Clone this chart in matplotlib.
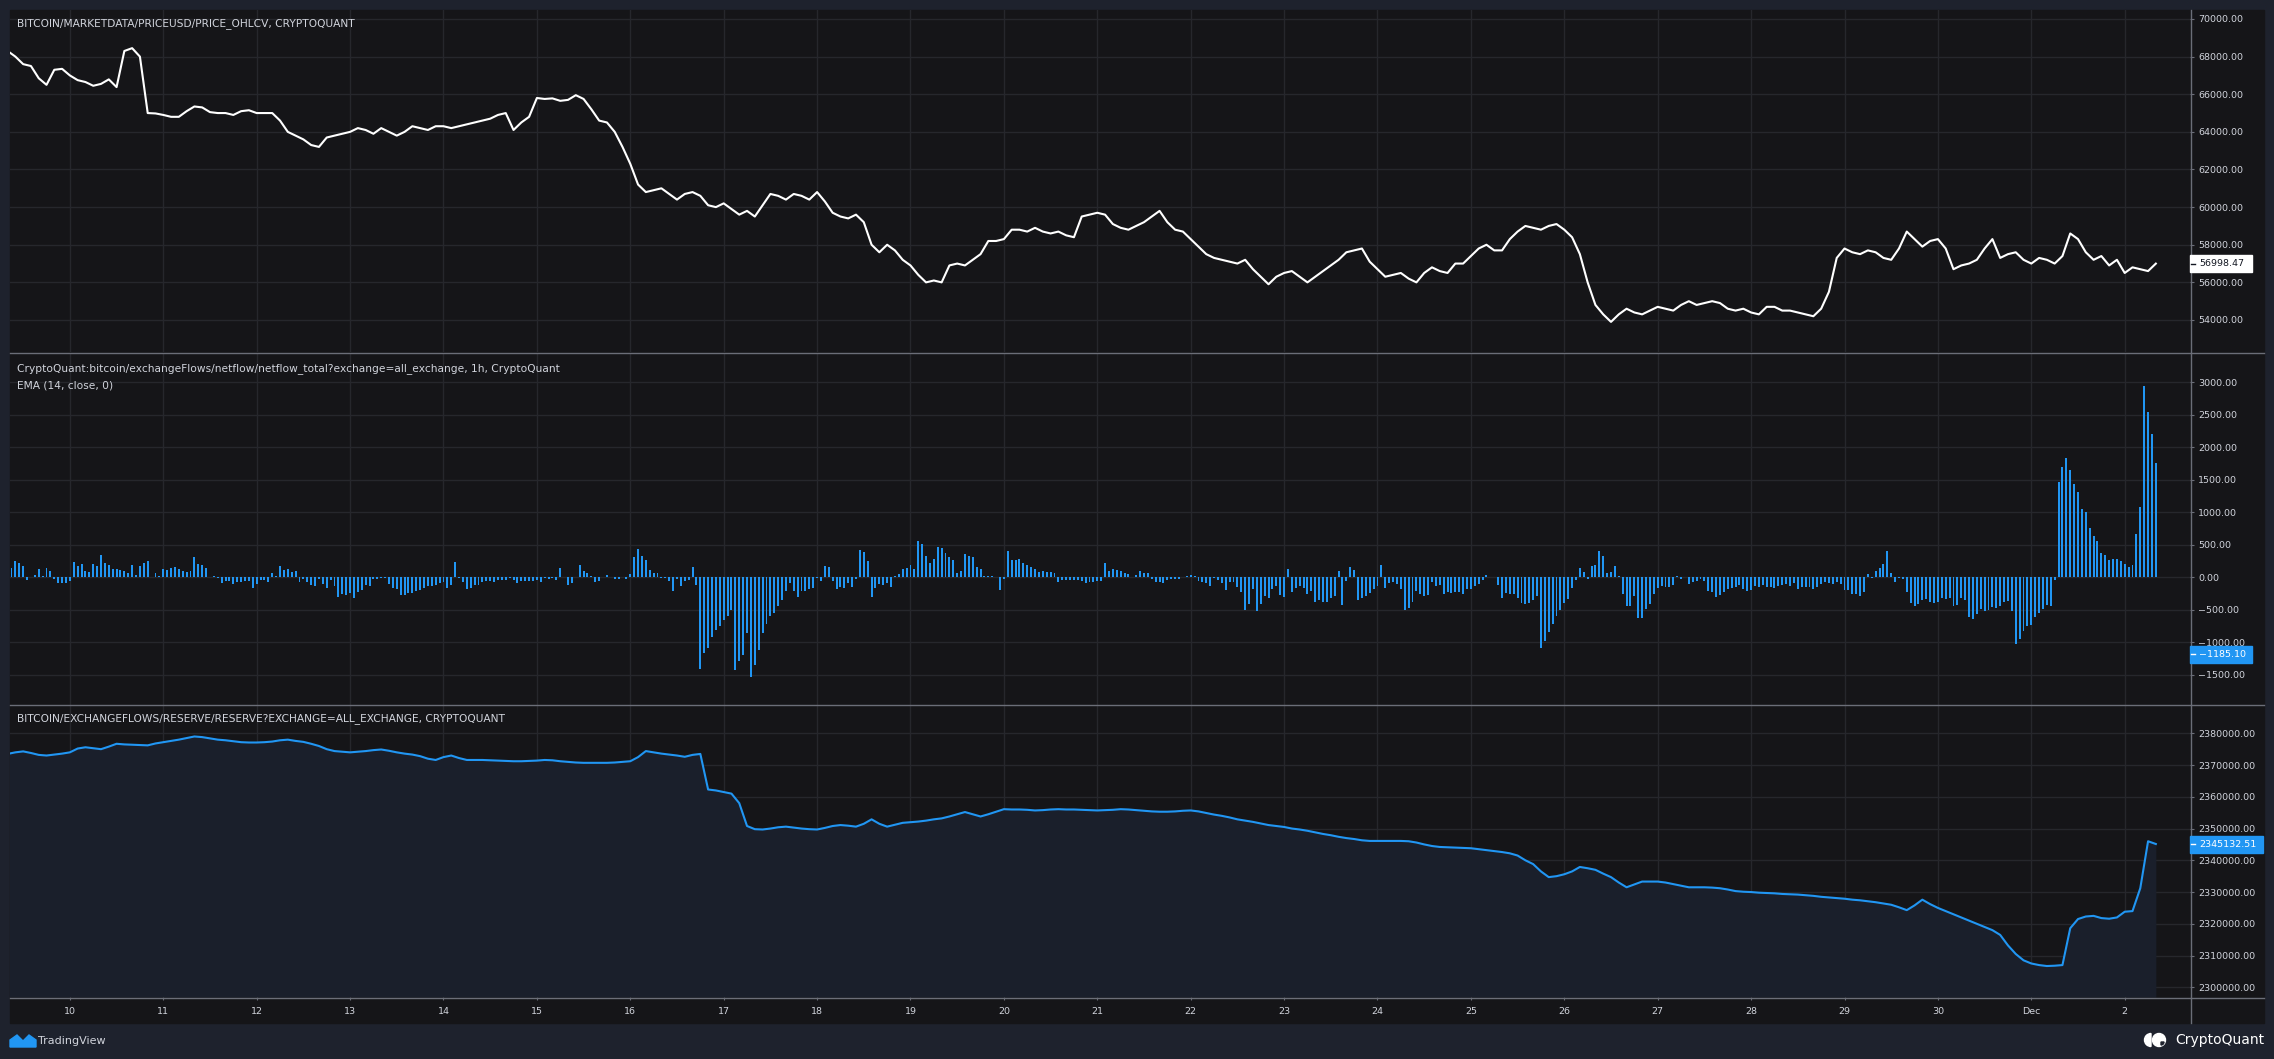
import matplotlib
matplotlib.use('Agg')
import matplotlib.pyplot as plt
import matplotlib.dates as mdates
from matplotlib.patches import Rectangle, Polygon, Wedge, Circle
from matplotlib.lines import Line2D
from matplotlib.ticker import FuncFormatter, FixedLocator
import numpy as np
import pandas as pd

# ---------------- data ----------------
# hourly exchange netflow, first bar 2021-11-09 09:00
netflow_start = '2021-11-09 09:00'
netflow = [
    144, 252, 221, 175, -41, 10, 36, 129, 20, 144,
    98, -26, -88, -88, -88, -51, 237, 175, 206, 98,
    82, 206, 175, 345, 221, 190, 129, 129, 113, 98,
    67, 190, 36, 175, 221, 252, 10, 67, 20, 129,
    113, 144, 160, 129, 98, 82, 98, 314, 206, 190,
    144, 5, 20, -5, -88, -57, -57, -103, -72, -72,
    -57, -57, -165, -103, -41, -41, -72, 67, 20, 175,
    113, 129, 82, 98, -72, -26, -72, -118, -134, -26,
    -103, -165, -41, -134, -304, -258, -273, -242, -319, -227,
    -196, -118, -134, -26, -26, -5, -5, -103, -165, -180,
    -273, -273, -242, -242, -211, -196, -165, -134, -134, -118,
    -88, -72, -165, -118, 237, -5, -72, -180, -165, -118,
    -118, -72, -57, -57, -72, -41, -41, -41, -10, -41,
    -88, -57, -57, -57, -57, -41, -72, -10, -26, -10,
    -41,
    # Nov 15 06:00 -> Nov 16 00:00
    144, 5, -118, -88, 5, 190, 98, 67, 20, -72, -57, 5, 36, 5, -26, -26, 5, -26, 51,
    # Nov 16
    314, 438, 330, 268, 113, 67, 67, -5, -5, -57, -211, -26,
    -134, -57, -41, 160, -118, -1416, -1169, -1092, -922, -814, -752, -659,
    # Nov 17
    -597, -505, -1432, -1293, -1200, -860, -1540, -1354, -1123, -860, -721, -597,
    -551, -443, -350, -211, -88, -211, -304, -211, -211, -180, -165, -5,
    # Nov 18
    -57, 175, 160, -57, -180, -149, -165, -88, -149, -26, 422, 391,
    252, -304, -165, -103, -118, -88, -149, 20, 51, 129, 144, 190,
    # Nov 19
    129, 561, 515, 330, 221, 283, 469, 453, 376, 314, 268, 67,
    98, 360, 330, 314, 160, 129, 20, 20, 20, 5, -196, -26,
    # Nov 20
    407, 268, 268, 283, 221, 190, 160, 129, 82, 98, 82, 82,
    67, -72, -41, -41, -41, -41, -41, -57, -88, -72, -72, -57,
    # Nov 21
    -57, 221, 98, 129, 113, 98, 67, 51, 5, 36, 98, 67,
    67, -26, -72, -72, -88, -41, -26, -26, -26, 5, 20, 36,
    # Nov 22
    20, -57, -72, -88, -134, -5, -41, -88, -196, -72, -72, -149,
    -227, -505, -412, -180, -520, -412, -288, -319, -180, -134, -273, -304,
    # Nov 23
    129, -227, -165, -134, -165, -258, -211, -381, -350, -381, -381, -319,
    -288, 98, -427, -57, 160, 113, -350, -319, -288, -242, -180, -134,
    # Nov 24
    190, -165, -88, -72, -103, -180, -505, -474, -381, -211, -258, -288,
    -273, -72, -134, -118, -258, -227, -242, -227, -227, -258, -180, -180,
    # Nov 25
    -134, -103, -41, 36, 5, 5, -118, -319, -242, -258, -258, -319,
    -397, -412, -397, -350, -288, -1092, -984, -845, -721, -597, -505, -397,
    # Nov 26
    -335, -165, -41, 144, 82, -26, 175, 190, 407, 330, 67, 82,
    175, 20, -258, -443, -443, -288, -628, -628, -489, -412, -258, -165,
    # Nov 27
    -134, -149, -149, -118, 20, -26, 5, -103, -72, -57, -26, -57,
    -211, -227, -304, -273, -227, -180, -165, -149, -118, -180, -211, -196,
    # Nov 28
    -134, -149, -118, -149, -149, -165, -134, -118, -103, -134, -88, -180,
    -149, -149, -149, -180, -149, -103, -72, -88, -103, -72, -103, -196,
    # Nov 29
    -196, -258, -258, -288, -227, 51, -5, 98, 144, 206, 407, 67,
    -72, -5, -26, -227, -397, -443, -412, -350, -335, -381, -397, -381,
    # Nov 30
    -319, -335, -319, -443, -427, -319, -350, -613, -644, -567, -489, -520,
    -505, -458, -474, -443, -381, -366, -520, -1030, -953, -829, -752, -736,
    # Dec 1
    -613, -551, -489, -427, -443, -41, 1459, 1693, 1834, 1646, 1443, 1318,
    1052, 1005, 755, 630, 552, 380, 349, 271, 287, 287, 255, 208,
    # Dec 2 01:00 -> 08:00
    162, 193, 662, 1084, 2944, 2537, 2209, 1756,
]

# BTC price, every 2 hours from 2021-11-09 08:00 (one row per day)
price_start = '2021-11-09 08:00'
price = [
    68300, 68000, 67600, 67500, 66850, 66500, 67300, 67350,
    67000, 66750, 66650, 66450, 66550, 66790, 66380, 68300, 68450, 68000, 65000, 64980,
    64900, 64800, 64800, 65100, 65350, 65300, 65050, 65000, 65000, 64900, 65100, 65150,
    65000, 65000, 65000, 64600, 64000, 63800, 63600, 63300, 63200, 63700, 63800, 63900,
    64000, 64200, 64100, 63900, 64200, 64000, 63800, 64000, 64300, 64200, 64100, 64300,
    64300, 64200, 64300, 64400, 64500, 64600, 64700, 64900, 65000, 64100, 64500, 64800,
    65800, 65750, 65780, 65650, 65700, 65950, 65750, 65200, 64600, 64500, 64000, 63200,
    62300, 61200, 60800, 60900, 61000, 60700, 60400, 60700, 60800, 60600, 60100, 60000,
    60200, 59900, 59600, 59800, 59500, 60100, 60700, 60600, 60400, 60700, 60600, 60400,
    60800, 60300, 59700, 59500, 59400, 59600, 59200, 58000, 57600, 58000, 57700, 57200,
    56900, 56400, 56000, 56100, 56000, 56900, 57000, 56900, 57200, 57500, 58200, 58200,
    58300, 58800, 58800, 58700, 58900, 58700, 58600, 58700, 58500, 58400, 59500, 59600,
    59700, 59600, 59100, 58900, 58800, 59000, 59200, 59500, 59800, 59200, 58800, 58700,
    58300, 57900, 57500, 57300, 57200, 57100, 57000, 57200, 56700, 56300, 55900, 56300,
    56500, 56600, 56300, 56000, 56300, 56600, 56900, 57200, 57600, 57700, 57800, 57100,
    56700, 56300, 56400, 56500, 56200, 56000, 56500, 56800, 56600, 56500, 57000, 57000,
    57400, 57800, 58000, 57700, 57700, 58300, 58700, 59000, 58900, 58800, 59000, 59100,
    58800, 58400, 57500, 56000, 54800, 54300, 53900, 54300, 54600, 54400, 54300, 54500,
    54700, 54600, 54500, 54800, 55000, 54800, 54900, 55000, 54900, 54600, 54500, 54600,
    54400, 54300, 54700, 54700, 54500, 54500, 54400, 54300, 54200, 54600, 55500, 57300,
    57800, 57600, 57500, 57700, 57600, 57300, 57200, 57800, 58700, 58300, 57900, 58200,
    58300, 57800, 56700, 56900, 57000, 57200, 57800, 58300, 57300, 57500, 57600, 57200,
    57000, 57300, 57200, 57000, 57400, 58600, 58300, 57600, 57200, 57400, 56900, 57200,
    56500, 56800, 56700, 56600, 56998.47,
]

# exchange reserve, every 2 hours from 2021-11-09 08:00 (one row per day)
reserve_start = '2021-11-09 08:00'
reserve = [
    2373500, 2374000, 2374300, 2373800, 2373200, 2373000, 2373300, 2373600,
    2374000, 2375200, 2375600, 2375300, 2375000, 2375800, 2376700, 2376500, 2376400, 2376300, 2376200, 2376800,
    2377200, 2377600, 2378000, 2378500, 2379000, 2378800, 2378400, 2378000, 2377800, 2377500, 2377200, 2377100,
    2377100, 2377200, 2377400, 2377800, 2378000, 2377600, 2377300, 2376700, 2376000, 2375000, 2374400, 2374200,
    2374000, 2374200, 2374400, 2374700, 2374900, 2374500, 2374000, 2373600, 2373300, 2372800, 2372000, 2371600,
    2372500, 2373000, 2372200, 2371600, 2371600, 2371600, 2371500, 2371400, 2371300, 2371200, 2371200, 2371300,
    2371400, 2371600, 2371500, 2371200, 2371000, 2370800, 2370700, 2370700, 2370700, 2370700, 2370800, 2371000,
    2371200, 2372500, 2374400, 2374000, 2373600, 2373300, 2373000, 2372600, 2373200, 2373500, 2362300, 2362000,
    2361500, 2361000, 2358000, 2350800, 2349800, 2349700, 2350000, 2350400, 2350600, 2350300, 2350000, 2349800,
    2349700, 2350200, 2350800, 2351100, 2350900, 2350600, 2351500, 2352900, 2351500, 2350600, 2351200, 2351800,
    2352000, 2352200, 2352500, 2352900, 2353200, 2353800, 2354500, 2355200, 2354500, 2353800, 2354500, 2355300,
    2356100, 2356000, 2356000, 2355900, 2355700, 2355800, 2356000, 2356100, 2356000, 2356000, 2355900, 2355800,
    2355700, 2355800, 2355900, 2356100, 2356000, 2355800, 2355600, 2355400, 2355300, 2355300, 2355400, 2355600,
    2355700, 2355400, 2354900, 2354400, 2354000, 2353500, 2352900, 2352500, 2352100, 2351600, 2351100, 2350800,
    2350500, 2350000, 2349700, 2349300, 2348800, 2348300, 2347900, 2347400, 2347000, 2346700, 2346300, 2346100,
    2346100, 2346100, 2346100, 2346100, 2346000, 2345600, 2345000, 2344500, 2344200, 2344100, 2344000, 2343900,
    2343800, 2343500, 2343200, 2342900, 2342600, 2342200, 2341500, 2340000, 2338800, 2336500, 2334700, 2335000,
    2335600, 2336500, 2337900, 2337500, 2337000, 2335800, 2334700, 2333000, 2331500, 2332400, 2333300, 2333300,
    2333300, 2333000, 2332500, 2332000, 2331500, 2331500, 2331500, 2331400, 2331200, 2330800, 2330300, 2330100,
    2330000, 2329800, 2329700, 2329600, 2329400, 2329300, 2329200, 2329000, 2328800, 2328500, 2328300, 2328100,
    2327900, 2327600, 2327400, 2327100, 2326800, 2326400, 2326000, 2325200, 2324300, 2325800, 2327600, 2326200,
    2325000, 2324000, 2323000, 2322000, 2321000, 2320000, 2319000, 2318000, 2316500, 2313200, 2310500, 2308500,
    2307500, 2307000, 2306700, 2306800, 2307000, 2318600, 2321500, 2322300, 2322500, 2321800, 2321600, 2322000,
    2323800, 2324000, 2331200, 2346000, 2345132.51,
]

last_price = 56998.47
last_ema = -1185.10
last_reserve = 2345132.51

price_ticks = np.arange(54000, 70001, 2000)
netflow_ticks = np.arange(-1500, 3001, 500)
reserve_ticks = np.arange(2300000, 2380001, 10000)

title1 = 'BITCOIN/MARKETDATA/PRICEUSD/PRICE_OHLCV, CRYPTOQUANT'
title2 = 'CryptoQuant:bitcoin/exchangeFlows/netflow/netflow_total?exchange=all_exchange, 1h, CryptoQuant'
title2b = 'EMA (14, close, 0)'
title3 = 'BITCOIN/EXCHANGEFLOWS/RESERVE/RESERVE?EXCHANGE=ALL_EXCHANGE, CRYPTOQUANT'

# ---------------- style ----------------
BG_OUT = '#1e222d'
BG_PANE = '#151518'
GRID = '#26272c'
SEP = '#6b6e78'
TXT = '#d1d4dc'
BLUE = '#2196f3'
FILL = '#1a1f2b'
FS = 6.8
FS_TITLE = 7.7

W, H = 2274, 1059
fig = plt.figure(figsize=(W / 100, H / 100), dpi=100, facecolor=BG_OUT)


def fx(px):
    return px / W


def fy(py):
    return 1 - py / H


# dark pane behind all three panels (below the axes)
fig.patches.append(Rectangle((fx(10), fy(1023)), fx(2254), (1023 - 10) / H,
                             transform=fig.transFigure, color=BG_PANE, zorder=-1))


def px_axes(top, bottom):
    return fig.add_axes([fx(10), fy(bottom), fx(2180), (bottom - top) / H])


ax1 = px_axes(10, 352)
ax2 = px_axes(353, 705)
ax3 = px_axes(705, 997)

t_net = pd.date_range(netflow_start, periods=len(netflow), freq='h')
t_price = pd.date_range(price_start, periods=len(price), freq='2h')
t_res = pd.date_range(reserve_start, periods=len(reserve), freq='2h')

day0 = pd.Timestamp('2021-11-10')
xlim = (day0 - pd.Timedelta(days=0.641), day0 + pd.Timedelta(days=22.699))

ax1.plot(t_price, price, color='white', lw=1.5, solid_joinstyle='round')
ax2.bar(t_net, netflow, width=0.5 / 24, color=BLUE, linewidth=0)
ax3.plot(t_res, reserve, color=BLUE, lw=1.5)
ax3.fill_between(t_res, reserve, 2296945, color=FILL, lw=0)

ax1.set_ylim(52299, 70478)
ax2.set_ylim(-1965, 3451)
ax3.set_ylim(2296945, 2388913)


def fmt_num(v, pos=None):
    s = '{:.2f}'.format(abs(v))
    return ('\u2212' + s) if v < 0 else s


def fmt_day(x, pos=None):
    d = mdates.num2date(x)
    return 'Dec' if (d.month == 12 and d.day == 1) else str(d.day)


for ax, ticks in ((ax1, price_ticks), (ax2, netflow_ticks), (ax3, reserve_ticks)):
    ax.set_facecolor(BG_PANE)
    for s in ax.spines.values():
        s.set_visible(False)
    ax.set_xlim(xlim)
    ax.xaxis.set_major_locator(mdates.DayLocator())
    ax.xaxis.set_major_formatter(FuncFormatter(fmt_day))
    ax.yaxis.set_major_locator(FixedLocator(ticks))
    ax.yaxis.set_major_formatter(FuncFormatter(fmt_num))
    ax.yaxis.tick_right()
    ax.tick_params(axis='y', direction='out', length=3, width=0.8, color=SEP,
                   pad=3, labelsize=FS, labelcolor=TXT)
    ax.tick_params(axis='x', length=0, labelbottom=False)
    ax.grid(True, color=GRID, lw=1)
    ax.set_axisbelow(True)

ax3.tick_params(axis='x', length=2.5, width=0.8, color=SEP, pad=5,
                labelbottom=True, labelsize=FS, labelcolor=TXT)

# panel separators and axis border
for yy in (352.5, 705, 997.5):
    fig.add_artist(Line2D([fx(10), fx(2264)], [fy(yy), fy(yy)], color=SEP, lw=1))
fig.add_artist(Line2D([fx(2190.5), fx(2190.5)], [fy(10), fy(1023)], color=SEP, lw=1))

# panel titles
fig.text(fx(17), fy(24), title1, fontsize=FS_TITLE, color=TXT, va='center')
fig.text(fx(17), fy(369), title2, fontsize=FS_TITLE, color=TXT, va='center')
fig.text(fx(17), fy(386), title2b, fontsize=FS_TITLE, color=TXT, va='center')
fig.text(fx(17), fy(719), title3, fontsize=FS_TITLE, color=TXT, va='center')

# last value labels on the right scale
fig.canvas.draw()


def last_label(ax, v, fc, tc, w):
    ypix = ax.transData.transform((0, v))[1]
    fig.patches.append(Rectangle((fx(2190), (ypix - 8.5) / H), w / W, 17 / H,
                                 transform=fig.transFigure, color=fc, zorder=5))
    fig.add_artist(Line2D([fx(2191), fx(2195)], [ypix / H, ypix / H], color=tc, lw=1, zorder=6))
    fig.text(fx(2199), ypix / H, fmt_num(v), fontsize=FS, color=tc, va='center', zorder=6)


last_label(ax1, last_price, 'white', '#131722', 62)
last_label(ax2, last_ema, BLUE, 'white', 62)
last_label(ax3, last_reserve, BLUE, 'white', 73)

# footer: TradingView mark
fig.patches.append(Polygon([(fx(10), fy(1047)), (fx(10), fy(1040)), (fx(17), fy(1035)),
                            (fx(23), fy(1041)), (fx(29), fy(1035)), (fx(36), fy(1040)),
                            (fx(36), fy(1047))],
                           closed=True, transform=fig.transFigure, color=BLUE))
fig.text(fx(38), fy(1041), 'TradingView', fontsize=8, color=TXT, va='center')

# footer: CryptoQuant mark
fig.patches.append(Wedge((2151, H - 1040), 6.5, 90, 270, transform=None, color='white'))
fig.patches.append(Circle((2159, H - 1040), 6.5, transform=None, color='white'))
fig.patches.append(Wedge((2161, H - 1042), 3, 270, 360, transform=None, color=BG_OUT))
fig.text(fx(2264), fy(1040), 'CryptoQuant', fontsize=10, color='white', va='center', ha='right')

fig.savefig('out.png', dpi=100, facecolor=BG_OUT)
